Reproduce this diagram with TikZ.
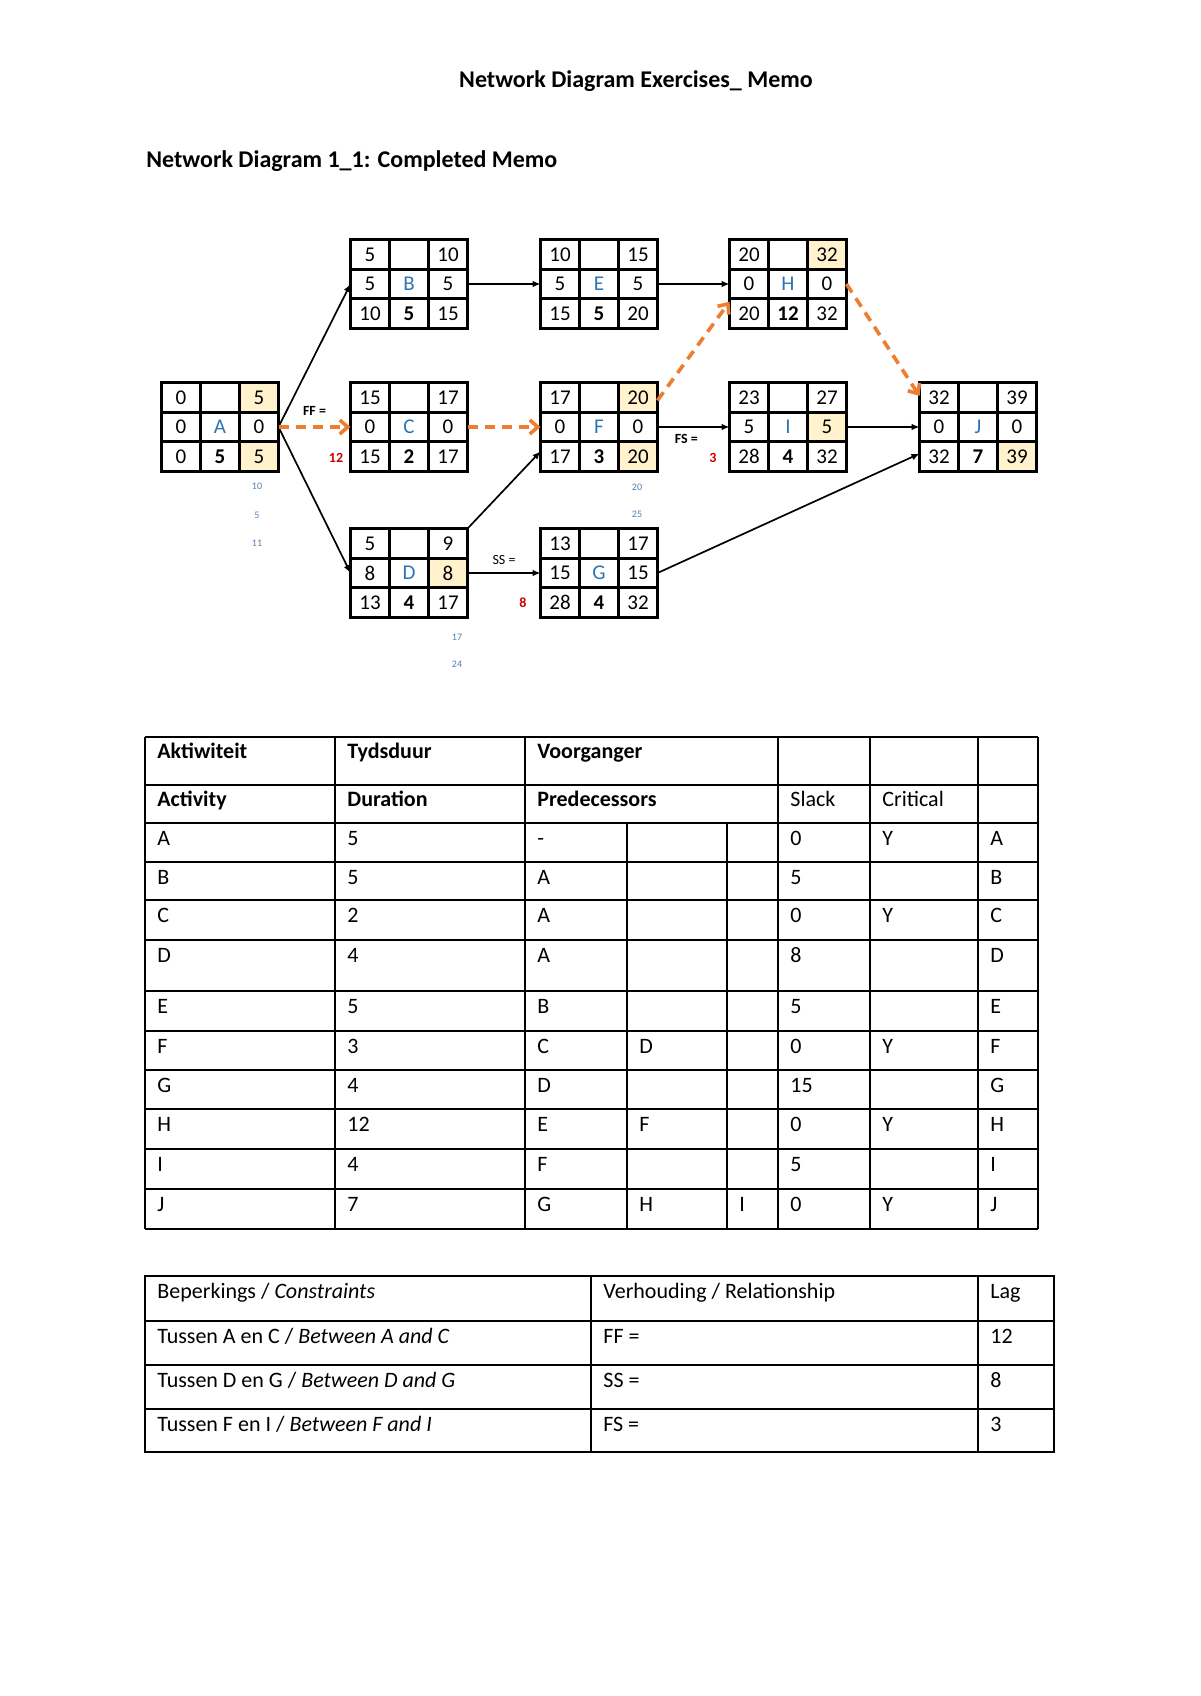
\documentclass[tikz,border=0pt]{standalone}
\usepackage{fontspec}
\setmainfont{Carlito}
\usepackage{tikz}
\usetikzlibrary{matrix, positioning, arrows.meta, calc}
\definecolor{actblue}{RGB}{46,117,182}
\definecolor{critorange}{RGB}{237,125,49}
\definecolor{hlyellow}{RGB}{255,242,204}
\definecolor{lagred}{RGB}{204,0,0}
\definecolor{notegray}{RGB}{80,130,185}
\newcommand{\boxfont}{\fontsize{10.5}{12}\selectfont}
\newcommand{\tblfont}{\fontsize{11}{13}\selectfont}

\begin{document}
\begin{tikzpicture}[
    x=0.5pt, y=-0.5pt,
    act/.style={matrix of nodes, nodes in empty cells, inner sep=0pt, outer sep=0pt,
        column sep=0pt, row sep=0pt,
        nodes={draw, line width=0.8pt, minimum width=18.7pt, minimum height=14pt,
            inner sep=0pt, outer sep=0pt, anchor=center, font=\boxfont},
        row 2 column 2/.style={nodes={text=actblue}},
        row 3 column 2/.style={nodes={font=\boxfont\bfseries}}},
    hl/.style={fill=hlyellow},
    frame/.style={line width=1.3pt},
    flow/.style={-{Latex[length=4pt, width=3.4pt]}, line width=0.85pt},
    crit/.style={-{Straight Barb[length=4pt, width=7pt]}, critorange, line width=1.8pt,
        dash pattern=on 5pt off 3.5pt},
    lbl/.style={font=\fontsize{7}{8}\selectfont\bfseries, inner sep=1pt},
    lag/.style={font=\fontsize{7}{8}\selectfont\bfseries, text=lagred},
    note/.style={font=\fontsize{5}{6}\selectfont, text=notegray},
    heading/.style={font=\fontsize{12}{14}\selectfont\bfseries, inner sep=0pt},
    hcell/.style={anchor=base west, inner sep=0pt, font=\tblfont\bfseries},
    cell/.style={anchor=base west, inner sep=0pt, font=\tblfont},
    rule/.style={line width=0.6pt},
    boldrule/.style={line width=1.3pt}
]
    \fill[white] (0,0) rectangle (1200,1696);
    \useasboundingbox (0,0) rectangle (1200,1696);

    % Headings
    \node[heading, anchor=base] (title) at (636,88) {Network Diagram Exercises\_ Memo};
    \node[heading, anchor=base west] (subtitle) at (146,168) {Network Diagram 1\_1: Completed Memo};

    % Activities
    \matrix[act] (A) at (220,427) {0 & & |[hl]| 5 \\ 0 & A & 0 \\ 0 & 5 & |[hl]| 5 \\};
    \matrix[act] (B) at (409,284) {5 & & 10 \\ 5 & B & 5 \\ 10 & 5 & 15 \\};
    \matrix[act] (C) at (409,427) {15 & & 17 \\ 0 & C & 0 \\ 15 & 2 & 17 \\};
    \matrix[act] (D) at (409,573) {5 & & 9 \\ 8 & D & |[hl]| 8 \\ 13 & 4 & 17 \\};
    \matrix[act] (E) at (599,284) {10 & & 15 \\ 5 & E & 5 \\ 15 & 5 & 20 \\};
    \matrix[act] (F) at (599,427) {17 & & |[hl]| 20 \\ 0 & F & 0 \\ 17 & 3 & |[hl]| 20 \\};
    \matrix[act] (G) at (599,573) {13 & & 17 \\ 15 & G & 15 \\ 28 & 4 & 32 \\};
    \matrix[act] (H) at (788,284) {20 & & |[hl]| 32 \\ 0 & H & 0 \\ 20 & 12 & 32 \\};
    \matrix[act] (I) at (788,427) {23 & & 27 \\ 5 & I & |[hl]| 5 \\ 28 & 4 & 32 \\};
    \matrix[act] (J) at (978,427) {32 & & 39 \\ 0 & J & 0 \\ 32 & 7 & |[hl]| 39 \\};
    \foreach \n in {A,B,C,D,E,F,G,H,I,J}
        \draw[frame] (\n.north west) rectangle (\n.south east);

    % Dependencies
    \draw[flow] (A.east) -- (B.west);
    \draw[flow] (A.east) -- (D.west);
    \draw[flow] (B.east) -- (E.west);
    \draw[flow] (E.east) -- (H.west);
    \draw[flow] (D.north east) -- ($(F.west)!0.55!(F.south west)$);
    \draw[flow] (D.east) -- node[lbl, above=3pt, font=\fontsize{7}{8}\selectfont] {SS =} (G.west);
    \draw[flow] (F.east) -- node[lbl, below=2pt, pos=0.4] {FS =} (I.west);
    \draw[flow] (I.east) -- (J.west);
    \draw[flow] (G.east) -- ($(J.west)!0.6!(J.south west)$);

    % Critical path
    \draw[crit] (A.east) -- node[lbl, above=4pt, text=black] {FF =} (C.west);
    \draw[crit] (C.east) -- (F.west);
    \draw[crit] ($(F.north east)!0.4!(F.east)$) -- ($(H.west)!0.4!(H.south west)$);
    \draw[crit] (H.east) -- ($(J.north west)!0.3!(J.west)$);

    % Lags
    \node[lag] (lagAC) at (336,458) {12};
    \node[lag] (lagDG) at (523,603) {8};
    \node[lag] (lagFI) at (713,458) {3};

    % Side notes
    \node[note] (noteA1) at (257,486) {10};
    \node[note] (noteA2) at (257,515) {5};
    \node[note] (noteA3) at (257,543) {11};
    \node[note] (noteF1) at (637,487) {20};
    \node[note] (noteF2) at (637,514) {25};
    \node[note] (noteD1) at (457,637) {17};
    \node[note] (noteD2) at (457,664) {24};

    % Activity table
    \foreach \y in {737,785,823,862,900}
        \draw[rule] (145,\y) -- (1038,\y);
    \foreach \y in {940,991,1031,1070,1109,1149,1189,1229}
        \draw[boldrule] (145,\y) -- (1038,\y);
    \foreach \x in {145,335,870,978}
        \draw[rule] (\x,737) -- (\x,1229);
    \foreach \x in {525,778,1038}
        \draw[boldrule] (\x,737) -- (\x,1229);
    \foreach \x in {627,727}
        \draw[boldrule] (\x,823) -- (\x,1229);
    \node[hcell] (h-act) at (157,758) {Aktiwiteit};
    \node[hcell] (h-dur) at (347,758) {Tydsduur};
    \node[hcell] (h-pre) at (537,758) {Voorganger};
    \node[hcell] (h-act2) at (157,806) {Activity};
    \node[hcell] (h-dur2) at (347,806) {Duration};
    \node[hcell] (h-pre2) at (537,806) {Predecessors};
    \node[cell] (h-slk) at (790,806) {Slack};
    \node[cell] (h-crit) at (882,806) {Critical};
    \foreach \y/\act/\dur/\pa/\pb/\pc/\slk/\crit in {
        823/A/5/-/{}/{}/0/Y, 862/B/5/A/{}/{}/5/{}, 900/C/2/A/{}/{}/0/Y,
        940/D/4/A/{}/{}/8/{}, 991/E/5/B/{}/{}/5/{}, 1031/F/3/C/D/{}/0/Y,
        1070/G/4/D/{}/{}/15/{}, 1109/H/12/E/F/{}/0/Y, 1149/I/4/F/{}/{}/5/{},
        1189/J/7/G/H/I/0/Y}
    {
        \node[cell] (act-\act) at (157,{\y+22}) {\act};
        \node[cell] (dur-\act) at (347,{\y+22}) {\dur};
        \node[cell] (pa-\act) at (537,{\y+22}) {\pa};
        \node[cell] (pb-\act) at (639,{\y+22}) {\pb};
        \node[cell] (pc-\act) at (739,{\y+22}) {\pc};
        \node[cell] (slk-\act) at (790,{\y+22}) {\slk};
        \node[cell] (crit-\act) at (882,{\y+22}) {\crit};
        \node[cell] (tag-\act) at (990,{\y+22}) {\act};
    }

    % Constraint table
    \draw[boldrule] (145,1276) rectangle (1054,1452);
    \draw[rule] (145,1321) -- (1054,1321);
    \draw[boldrule] (145,1365) -- (1054,1365);
    \draw[rule] (145,1409) -- (1054,1409);
    \draw[boldrule] (591,1276) -- (591,1452);
    \draw[rule] (978,1276) -- (978,1452);
    \node[cell] (c-head) at (157,1298) {Beperkings / \textit{Constraints}};
    \node[cell] (r-head) at (603,1298) {Verhouding / Relationship};
    \node[cell] (l-head) at (990,1298) {Lag};
    \foreach \y/\a/\b/\rel/\lagv in {1343/A/C/FF =/12, 1387/D/G/SS =/8, 1431/F/I/FS =/3}
    {
        \node[cell] (c-\a\b) at (157,\y) {Tussen \a\ en \b\ / \textit{Between \a\ and \b}};
        \node[cell] (r-\a\b) at (603,\y) {\rel};
        \node[cell] (l-\a\b) at (990,\y) {\lagv};
    }
\end{tikzpicture}
\end{document}
